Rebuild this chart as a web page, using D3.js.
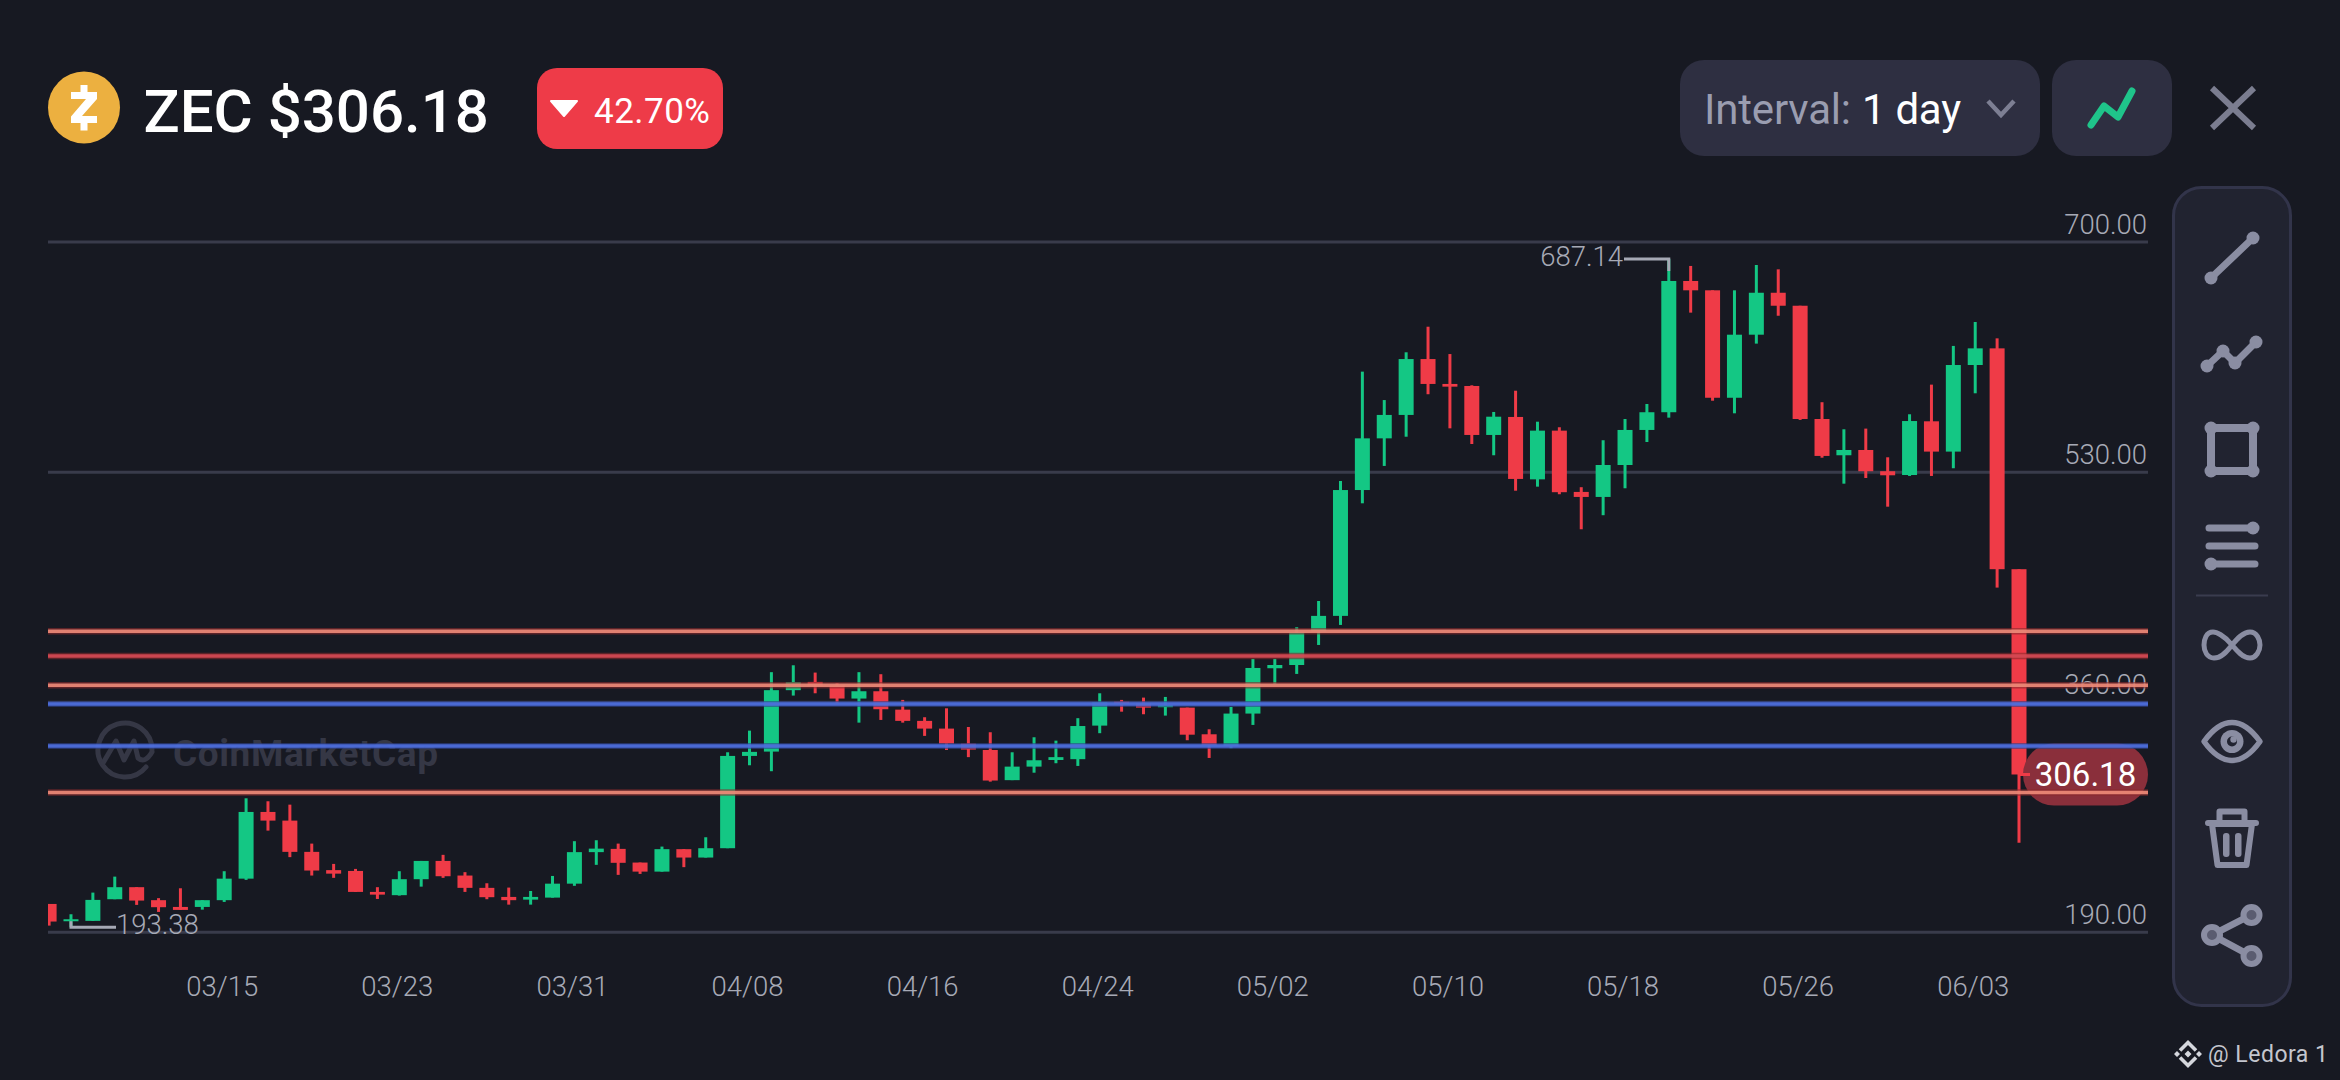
<!DOCTYPE html>
<html><head><meta charset="utf-8">
<script src="https://cdn.jsdelivr.net/npm/d3@7"></script>
<style>
html,body{margin:0;padding:0;background:#171922;overflow:hidden}
svg{display:block}
text{font-family:Roboto,sans-serif}
</style></head><body>
<svg id="c" width="2340" height="1080"></svg>
<script>
const startDate = "2026-03-07";
const opens = [210.5,197.8,198.0,214.0,222.9,213.3,208.3,208.3,213.3,229.2,278.5,272.1,249.0,235.5,234.9,219.4,217.0,228.8,242.3,231.5,222.4,215.7,213.7,215.2,225.5,248.8,251.2,241.1,234.4,251.0,244.8,251.7,319.9,323.1,368.5,374.6,372.1,362.3,367.7,354.1,345.8,340.1,329.0,324.3,302.0,312.0,316.9,317.5,342.3,360.0,358.7,355.9,355.6,335.9,327.3,351.2,384.7,387.1,411.8,423.4,516.4,554.6,571.9,613.2,594.8,593.3,557.1,570.4,524.3,560.3,515.0,511.3,534.9,560.8,573.9,670.9,664.0,584.6,631.2,662.2,652.6,568.9,542.1,546.0,530.3,527.5,567.2,544.8,608.8,621.1,457.9];
const closes = [197.5,199.2,213.5,222.9,213.0,208.1,206.1,213.3,229.2,278.5,272.1,249.0,235.2,232.9,219.4,217.4,228.8,242.3,231.0,222.4,215.5,213.3,215.7,225.5,248.8,251.4,240.9,234.4,251.0,244.8,251.7,319.9,322.9,368.5,374.4,371.9,362.3,367.7,354.4,345.8,340.1,329.0,324.6,301.7,312.0,316.7,319.0,342.0,359.6,358.7,355.6,357.6,335.6,327.8,351.2,384.9,387.1,411.0,423.4,516.4,554.6,571.9,613.2,594.8,592.8,557.1,570.6,524.6,560.3,514.8,511.3,534.9,560.8,573.9,670.9,664.0,584.6,631.2,662.2,652.6,568.9,541.6,546.0,530.3,527.3,567.4,544.8,608.8,621.1,457.9,306.18];
const highs = [210.5,202.9,218.9,230.7,222.9,214.8,222.1,213.3,234.7,288.6,286.4,283.9,255.1,240.1,236.4,222.9,234.7,242.3,246.8,234.0,225.8,222.6,220.1,231.2,256.9,257.6,255.1,241.1,252.9,251.0,259.8,322.6,338.6,381.8,386.9,381.5,373.6,381.8,380.3,361.3,348.5,355.1,341.3,337.4,322.6,333.7,331.2,347.8,366.2,361.3,363.0,363.5,355.6,339.6,356.1,391.6,391.6,415.0,434.4,523.1,603.9,582.9,618.2,637.1,616.9,593.8,574.1,589.8,566.9,562.8,518.5,553.2,568.9,580.0,687.14,682.0,664.0,664.0,682.7,679.5,652.6,581.3,561.3,561.8,540.6,572.4,594.3,622.9,640.6,628.5,457.9];
const lows = [194.5,193.38,198.0,214.0,209.8,204.6,206.1,206.3,212.0,228.3,264.7,245.1,231.5,229.8,219.4,214.2,216.7,223.3,229.8,219.4,214.0,210.0,210.0,215.2,223.9,239.4,232.0,232.7,234.4,237.7,244.8,251.7,313.0,308.6,364.5,366.2,358.9,344.5,346.5,344.5,334.7,324.3,319.0,300.9,302.0,307.5,314.5,312.5,336.7,352.6,350.7,349.7,331.5,318.4,325.6,342.8,373.1,380.5,401.9,416.7,506.6,534.2,555.8,587.2,562.0,550.4,542.1,515.9,518.9,513.3,487.4,497.8,517.7,551.9,569.9,647.5,582.4,573.1,624.6,645.2,568.2,540.3,521.1,525.3,504.1,526.8,526.8,532.5,587.9,444.3,255.8];
const priceTicks = [190,360,530,700];
const dateTicks = ["2026-03-15","2026-03-23","2026-03-31","2026-04-08","2026-04-16","2026-04-24","2026-05-02","2026-05-10","2026-05-18","2026-05-26","2026-06-03"];
const salmonLevels = [412.0,372.1,292.8];
const redLevels = [393.8];
const blueLevels = [358.3,327.3];
const lastPrice = 306.18, maxPrice = 687.14, minPrice = 193.38;
const titleText = "ZEC $306.18", changeText = "42.70%";

const GREEN="#14c784", RED="#ef3b47", GREY="#a7aab6", ICON="#8a8da2";
const parse=d3.utcParse("%Y-%m-%d");
const first=parse(startDate);
const dates=opens.map((_,i)=>d3.utcDay.offset(first,i));
const L=48,R=2148;
const x=d3.scaleUtc().domain([dates[0],dates[dates.length-1]]).range([49.1,2019]);
const y=d3.scaleLinear().domain([190,700]).range([931.7,241.6]);
const svg=d3.select("#c");

// Grid and price labels
const gy=svg.append("g").attr("transform",`translate(${R},0)`)
 .call(d3.axisLeft(y).tickValues(priceTicks).tickFormat(d3.format(".2f")).tickSize(R-L).tickPadding(0));
gy.select(".domain").remove();
gy.selectAll("line").attr("stroke","#393b4b").attr("stroke-width",3);
gy.selectAll("text").attr("x",-1).attr("dy",-8).attr("text-anchor","end").attr("fill",GREY)
  .attr("font-size",27.5).attr("font-weight",300).attr("font-family","Roboto");

// Date axis
const gx=svg.append("g").attr("transform","translate(-2.5,968)")
 .call(d3.axisBottom(x).tickValues(dateTicks.map(parse)).tickFormat(d3.utcFormat("%m/%d")).tickSize(0).tickPadding(0));
gx.select(".domain").remove();
gx.selectAll("text").attr("y",28).attr("dy",0).attr("fill",GREY).attr("font-size",27.5)
  .attr("font-weight",300).attr("font-family","Roboto");

// Watermark
const wm=svg.append("g").attr("fill","none").attr("stroke","#353745").attr("stroke-width",5).attr("stroke-linecap","round").attr("stroke-linejoin","round");
wm.append("path").attr("d","M146 767 A27 27 0 1 1 152 750");
wm.append("path").attr("d","M103 763 L116 741 L124 760 L134 741 L138 758 Q145 764 152 752");
svg.append("text").attr("x",173).attr("y",766).attr("font-size",37).attr("font-weight",700)
  .attr("fill","#353745").attr("textLength",265).text("CoinMarketCap");

// Candles
svg.append("clipPath").attr("id","plot").append("rect").attr("x",L).attr("y",200).attr("width",R-L).attr("height",800);
const cg=svg.append("g").attr("clip-path","url(#plot)");
const col=i=>closes[i]>=opens[i]?GREEN:RED;
const idx=d3.range(opens.length);
cg.selectAll("line.w").data(idx).join("line").attr("class","w")
  .attr("x1",i=>x(dates[i])).attr("x2",i=>x(dates[i]))
  .attr("y1",i=>y(highs[i])).attr("y2",i=>y(lows[i]))
  .attr("stroke",col).attr("stroke-width",3);
cg.selectAll("rect.b").data(idx).join("rect").attr("class","b")
  .attr("x",i=>x(dates[i])-7.5).attr("width",15)
  .attr("y",i=>y(Math.max(opens[i],closes[i])))
  .attr("height",i=>Math.max(2,Math.abs(y(opens[i])-y(closes[i]))))
  .attr("fill",col);

// Last price pill
const ly=y(lastPrice), lastX=x(dates[dates.length-1]);
svg.append("rect").attr("x",2023).attr("width",125).attr("y",ly-31).attr("height",62).attr("rx",31).attr("fill","#8a2f3b");
svg.append("line").attr("x1",lastX).attr("x2",2030).attr("y1",ly).attr("y2",ly).attr("stroke",RED).attr("stroke-width",3);

// Level lines
function levels(vals,halo,core,hw,cw){
  vals.forEach(v=>{
    svg.append("line").attr("x1",L).attr("x2",R).attr("y1",y(v)).attr("y2",y(v)).attr("stroke",halo).attr("stroke-width",hw).attr("opacity",.6);
    svg.append("line").attr("x1",L).attr("x2",R).attr("y1",y(v)).attr("y2",y(v)).attr("stroke",core).attr("stroke-width",cw).attr("opacity",.9);
  });
}
levels(salmonLevels,"#8a2a2d","#f08c7a",6.5,3.5);
levels(redLevels,"#8a2a2d","#d84a55",6.5,3.5);
levels(blueLevels,"#2f4390","#4f70e0",6,3.5);

svg.append("text").attr("x",2085.5).attr("y",ly+11.5).attr("text-anchor","middle").attr("fill","#fff").attr("font-size",33).text(lastPrice.toFixed(2));

// Extreme annotations
const hiI=highs.indexOf(maxPrice), loI=lows.indexOf(minPrice);
svg.append("path").attr("fill","none").attr("stroke","#a6a9b5").attr("stroke-width",3)
  .attr("d",d3.line()([[1624,y(maxPrice)],[x(dates[hiI]),y(maxPrice)],[x(dates[hiI]),y(maxPrice)+12]]));
svg.append("text").attr("x",1623).attr("y",y(maxPrice)+7).attr("text-anchor","end").attr("fill",GREY).attr("font-size",27.5).attr("font-weight",300).text(maxPrice.toFixed(2));
svg.append("path").attr("fill","none").attr("stroke","#a6a9b5").attr("stroke-width",3)
  .attr("d",d3.line()([[x(dates[loI]),y(minPrice)-6],[x(dates[loI]),y(minPrice)],[116,y(minPrice)]]));
svg.append("text").attr("x",116).attr("y",y(minPrice)+7).attr("fill",GREY).attr("font-size",27.5).attr("font-weight",300).text(minPrice.toFixed(2));

// Header
svg.append("circle").attr("cx",84).attr("cy",107.6).attr("r",36).attr("fill","#ecb040");
svg.append("path").attr("fill","#fff").attr("d","M80.5 85H87.5V92H97V99L82 116H97V123H87.5V130.5H80.5V123H71V116.5L86 99H71V92H80.5Z");
svg.append("text").attr("x",143.5).attr("y",131.5).attr("font-size",60).attr("font-weight",500).attr("fill","#fff").text(titleText);
svg.append("rect").attr("x",537).attr("y",68).attr("width",186).attr("height",81).attr("rx",20).attr("fill","#ee3b48");
svg.append("path").attr("fill","#fff").attr("stroke","#fff").attr("stroke-width",2).attr("stroke-linejoin","round").attr("d","M551 101H577L564 116Z");
svg.append("text").attr("x",594).attr("y",123).attr("font-size",35).attr("fill","#fff").attr("textLength",116).text(changeText);

// Interval selector
svg.append("rect").attr("x",1680).attr("y",60).attr("width",360).attr("height",96).attr("rx",24).attr("fill","#2e2f41");
svg.append("text").attr("x",1704).attr("y",124).attr("font-size",42).attr("fill","#9a9db0").attr("textLength",147).text("Interval:");
svg.append("text").attr("x",1862).attr("y",124).attr("font-size",42).attr("fill","#fff").attr("textLength",99).text("1 day");
svg.append("path").attr("fill","none").attr("stroke","#7d7f93").attr("stroke-width",4.5).attr("d","M1988 101L2001 115L2014 101");
svg.append("rect").attr("x",2052).attr("y",60).attr("width",120).attr("height",96).attr("rx",24).attr("fill","#2e2f41");
svg.append("path").attr("fill","none").attr("stroke","#1fc48a").attr("stroke-width",7).attr("stroke-linecap","round").attr("stroke-linejoin","round").attr("d","M2091 125L2104 106L2118 117L2132 91");
svg.append("path").attr("fill","none").attr("stroke","#7b7d90").attr("stroke-width",6).attr("d","M2212 88L2254 128M2254 88L2212 128");

// Tool panel
svg.append("rect").attr("x",2173.5).attr("y",187.5).attr("width",117).attr("height",818).attr("rx",28).attr("fill","#212330").attr("stroke","#32344a").attr("stroke-width",3);
const tools=svg.append("g").attr("fill","none").attr("stroke",ICON).attr("stroke-width",7).attr("stroke-linecap","round").attr("stroke-linejoin","round");
const dot=(cx,cy,r=6.5)=>svg.append("circle").attr("cx",cx).attr("cy",cy).attr("r",r).attr("fill",ICON);
tools.append("path").attr("d","M2211 278L2253 238"); dot(2211,278);dot(2253,238);
tools.append("path").attr("d","M2207 366L2223 351L2235 363L2256 342"); dot(2207,366);dot(2223,351);dot(2235,363);dot(2256,342);
tools.append("rect").attr("x",2211).attr("y",428).attr("width",42).attr("height",43).attr("stroke-width",8); dot(2211,428);dot(2253,428);dot(2211,471);dot(2253,471);
tools.append("path").attr("d","M2209 528H2255M2209 546H2255M2209 564H2255"); dot(2253,528);dot(2211,564);
svg.append("line").attr("x1",2196).attr("x2",2268).attr("y1",595.5).attr("y2",595.5).attr("stroke","#3a3c4e").attr("stroke-width",2);
tools.append("path").attr("stroke-width",5).attr("d","M2232 645C2224 635 2216 632 2213 632C2206 632 2204 640 2204 645C2204 651 2207 658 2214 658C2222 658 2228 650 2232 645C2237 639 2243 632 2250 632C2257 632 2260 640 2260 645C2260 651 2256 658 2250 658C2243 658 2237 651 2232 645Z");
tools.append("path").attr("stroke-width",5.5).attr("d","M2204 741.5C2213 729 2222 722.5 2232 722.5C2242 722.5 2251 729 2260 741.5C2251 754 2242 760.5 2232 760.5C2222 760.5 2213 754 2204 741.5Z");
svg.append("circle").attr("cx",2232).attr("cy",741.5).attr("r",11.5).attr("fill",ICON);
svg.append("circle").attr("cx",2232).attr("cy",741.5).attr("r",5).attr("fill","#212330");
svg.append("circle").attr("cx",2233.5).attr("cy",739.5).attr("r",3.2).attr("fill",ICON);
tools.append("path").attr("stroke-width",6).attr("d","M2208 823H2256M2219.5 821V811.5H2244.5V821");
tools.append("path").attr("stroke-width",6).attr("d","M2212 824L2217.5 865H2246.5L2252 824Z");
svg.append("rect").attr("x",2223).attr("y",833).attr("width",6.5).attr("height",24).attr("rx",3).attr("fill",ICON);
svg.append("rect").attr("x",2235).attr("y",833).attr("width",6.5).attr("height",24).attr("rx",3).attr("fill",ICON);
tools.append("path").attr("d","M2251 915L2212 935L2251 956");
[[2251.5,915],[2212,935],[2251.5,956]].forEach(p=>{
  svg.append("circle").attr("cx",p[0]).attr("cy",p[1]).attr("r",8).attr("fill","#5a5c70").attr("stroke",ICON).attr("stroke-width",6);
});

// Credit
svg.append("path").attr("fill","none").attr("stroke","#d5d7dd").attr("stroke-width",3.6).attr("d","M2180 1050.5L2188 1042.5L2196 1050.5M2180 1057.5L2188 1065.5L2196 1057.5");
svg.append("path").attr("fill","#d5d7dd").attr("d","M2188 1050.5L2191.5 1054L2188 1057.5L2184.5 1054ZM2174 1054L2177 1051L2180 1054L2177 1057ZM2196 1054L2199 1051L2202 1054L2199 1057Z");
svg.append("text").attr("x",2208).attr("y",1062).attr("font-family","DejaVu Sans").attr("font-size",23).attr("fill","#c4c6ce").attr("textLength",120).text("@ Ledora 1");
</script>
</body></html>
